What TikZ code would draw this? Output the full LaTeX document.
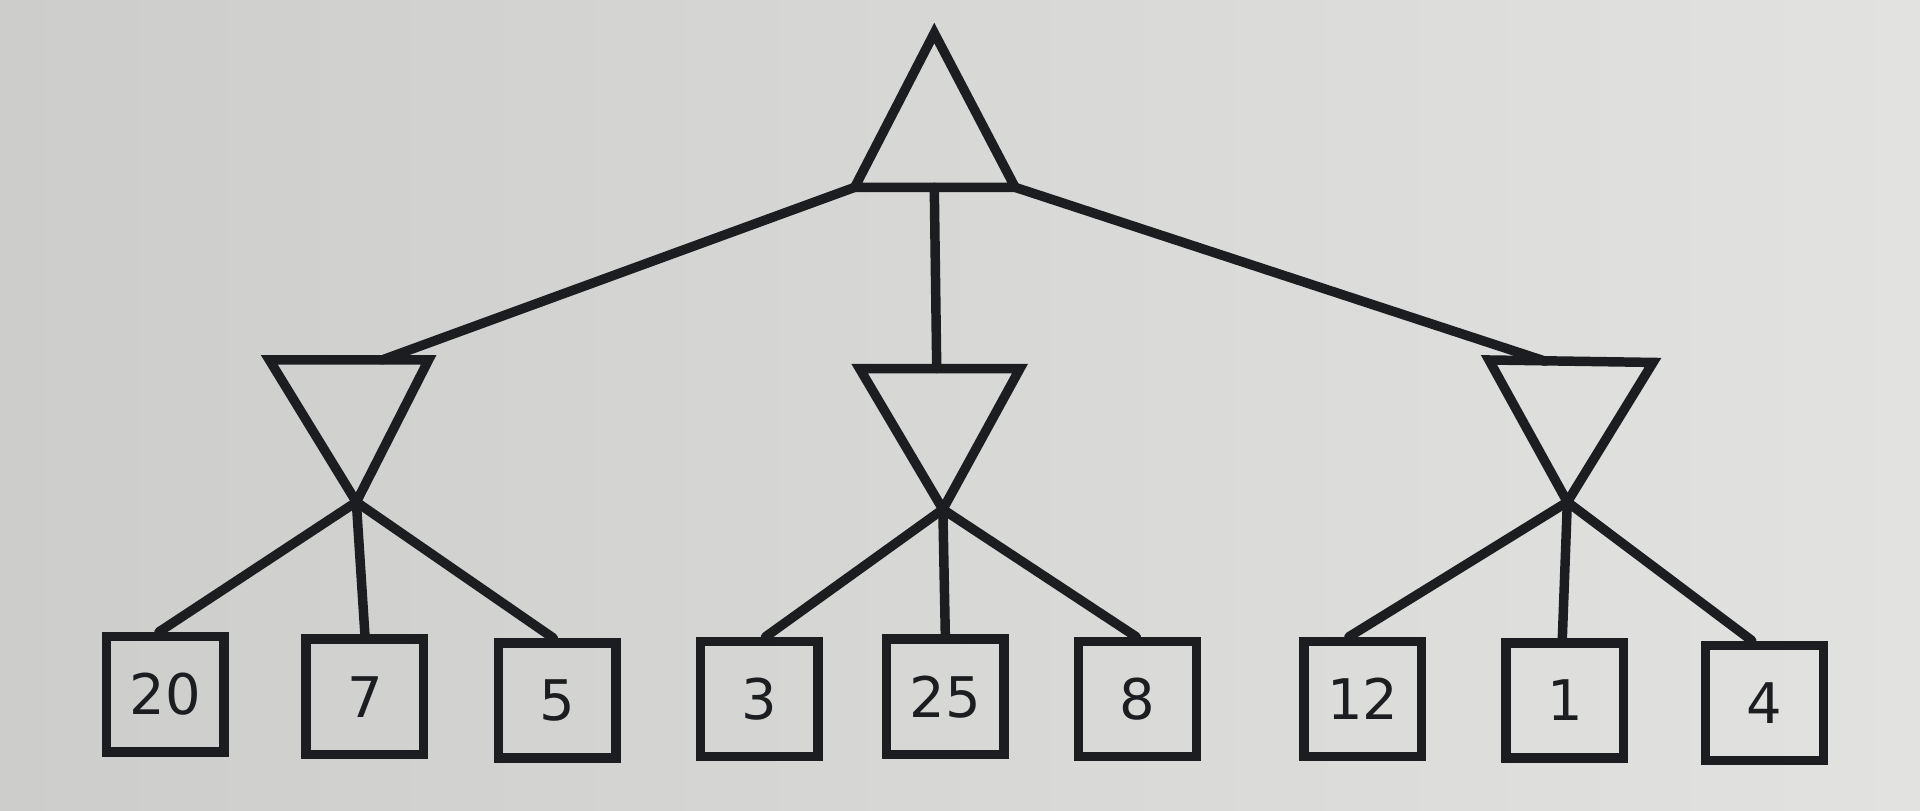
\documentclass[tikz,border=0pt]{standalone}
\usepackage{fontspec}
\setmainfont{DejaVu Sans}
\usetikzlibrary{calc}
\definecolor{ink}{HTML}{1B1D21}
\definecolor{bgL}{HTML}{CDCDCB}
\definecolor{bgR}{HTML}{E2E2E0}
\tikzset{
  edge/.style={draw=ink, line width=2.2pt, line cap=round, line join=round},
  tri/.style={draw=ink, line width=2.2pt, line join=miter},
  leaf/.style={draw=ink, line width=2.2pt, rectangle, minimum width=0.96cm, minimum height=0.94cm, inner sep=0pt, text=ink, font=\fontsize{13}{15}\selectfont}
}
\begin{document}
\begin{tikzpicture}[x=0.01cm,y=-0.01cm]
\shade[left color=bgL, right color=bgR] (0,0) rectangle (1568,662);
\useasboundingbox (0,0) rectangle (1568,662);
% root (max) triangle
\coordinate (Rtop) at (763,27);
\coordinate (RL) at (698,153);
\coordinate (RR) at (829,153);
\coordinate (RM) at (763,153);
\draw[tri] (Rtop) -- (RL) -- (RR) -- cycle;
% min triangles
\coordinate (A1) at (220,294); \coordinate (A2) at (350,294); \coordinate (Aap) at (291,410);
\coordinate (Ain) at (312,294);
\coordinate (B1) at (702,301); \coordinate (B2) at (833,301); \coordinate (Bap) at (770,416);
\coordinate (Bin) at (765,301);
\coordinate (C1) at (1216,294); \coordinate (C2) at (1350,296); \coordinate (Cap) at (1280,410);
\coordinate (Cin) at (1262,295);
\draw[tri] (A1) -- (A2) -- (Aap) -- cycle;
\draw[tri] (B1) -- (B2) -- (Bap) -- cycle;
\draw[tri] (C1) -- (C2) -- (Cap) -- cycle;
% root connectors
\draw[edge] (RL) -- (Ain);
\draw[edge] (RM) -- (Bin);
\draw[edge] (RR) -- (Cin);
% leaves
\node[leaf] (l20) at (135,567) {20};
\node[leaf] (l7)  at (298,569) {7};
\node[leaf] (l5)  at (455,572) {5};
\node[leaf] (l3)  at (620,571) {3};
\node[leaf] (l25) at (772,569) {25};
\node[leaf] (l8)  at (929,571) {8};
\node[leaf] (l12) at (1113,571) {12};
\node[leaf] (l1)  at (1278,572) {1};
\node[leaf] (l4)  at (1441,574) {4};
% leaf connectors
\draw[edge] (Aap) -- ($(l20.north west)!0.45!(l20.north east)$);
\draw[edge] (Aap) -- (l7.north);
\draw[edge] (Aap) -- ($(l5.north west)!0.47!(l5.north east)$);
\draw[edge] (Bap) -- ($(l3.north west)!0.55!(l3.north east)$);
\draw[edge] (Bap) -- (l25.north);
\draw[edge] (Bap) -- ($(l8.north west)!0.49!(l8.north east)$);
\draw[edge] (Cap) -- ($(l12.north west)!0.39!(l12.north east)$);
\draw[edge] (Cap) -- ($(l1.north west)!0.48!(l1.north east)$);
\draw[edge] (Cap) -- ($(l4.north west)!0.40!(l4.north east)$);
\end{tikzpicture}
\end{document}
